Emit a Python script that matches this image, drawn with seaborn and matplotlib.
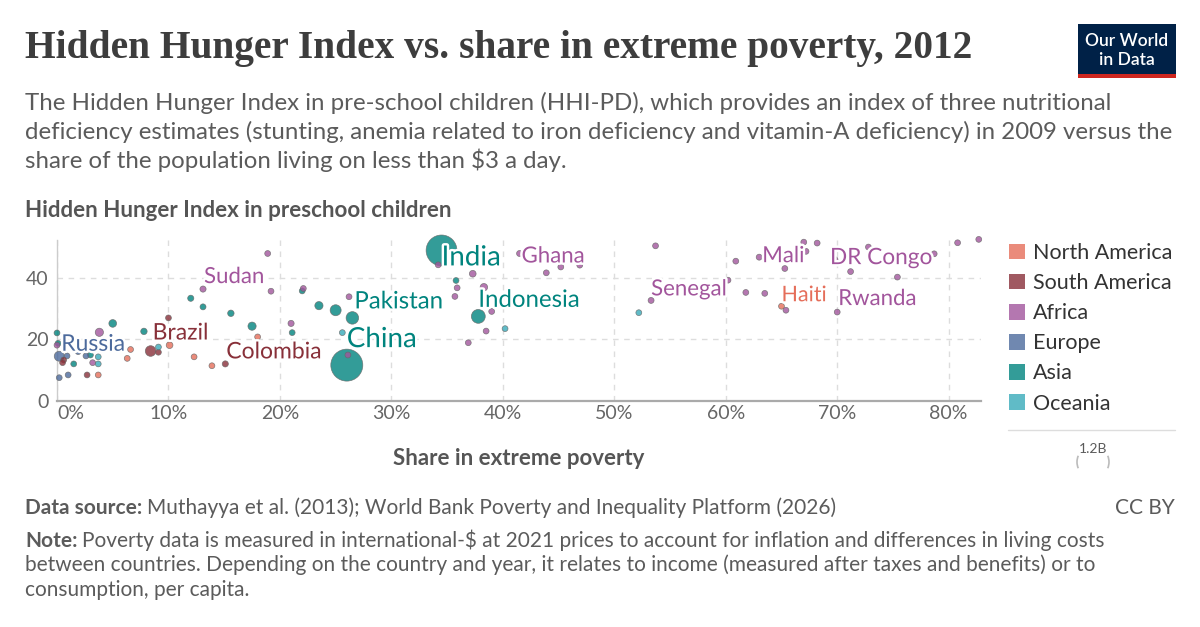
import numpy as np
import pandas as pd
import matplotlib
matplotlib.use("Agg")
import matplotlib.pyplot as plt
import seaborn as sns
from matplotlib.patches import Patch, Rectangle, Arc
import matplotlib.patheffects as pe

# ---------------- data ----------------
country = [
    # Asia (19)
    "India", "China", "Indonesia", "Pakistan", "", "", "", "", "", "", "", "", "", "", "", "", "", "", "",
    # Africa (42)
    "", "", "", "Sudan", "", "", "", "", "", "", "", "", "", "", "", "", "", "",
    "Ghana", "", "", "", "", "Senegal", "", "", "Mali", "", "", "", "", "", "", "", "", "",
    "", "", "Rwanda", "", "", "DR Congo",
    # Europe (6)
    "Russia", "", "", "", "", "",
    # South America (7)
    "Brazil", "", "", "Colombia", "", "", "",
    # North America (8)
    "", "", "", "", "", "", "", "Haiti",
    # Oceania (6)
    "", "", "", "", "", "",
]
region = (["Asia"] * 19 + ["Africa"] * 42 + ["Europe"] * 6 + ["South America"] * 7
          + ["North America"] * 8 + ["Oceania"] * 6)
poverty = [
    34.5, 26.0, 37.8, 26.5, 25.0, 23.5, 17.5, 5.0, 13.1, 12.0, 15.6, 7.8, 0.0, 0.1, 1.5, 3.0, 22.0, 21.1, 35.8,
    3.8, 0.0, 3.2, 13.1, 18.9, 19.2, 22.1, 21.0, 26.2, 26.1, 34.2, 37.3, 35.9, 35.7, 38.3, 39.0, 38.5, 36.9,
    41.5, 43.9, 45.2, 46.9, 53.7, 53.3, 60.2, 60.9, 63.0, 65.3, 61.8, 63.5, 65.4, 67.0, 68.2, 67.2, 72.8, 71.2,
    78.7, 75.4, 70.0, 80.8, 82.7, 69.8,
    0.2, 0.9, 0.2, 1.0, 2.6, 1.9,
    8.4, 9.1, 10.0, 15.1, 0.6, 0.5, 2.7,
    6.6, 6.3, 10.1, 12.3, 13.9, 18.0, 3.7, 65.0,
    3.7, 3.7, 9.1, 25.6, 40.2, 52.2,
]
hhi = [
    49.0, 11.6, 27.5, 27.0, 29.5, 31.0, 24.3, 25.2, 30.6, 33.4, 28.5, 22.6, 22.1, 18.7, 12.0, 14.9, 35.8, 22.2, 39.2,
    22.3, 18.1, 12.4, 36.4, 48.0, 35.7, 36.6, 25.2, 33.9, 14.9, 44.3, 41.4, 36.8, 34.0, 37.0, 29.1, 22.7, 18.9,
    48.0, 41.7, 43.6, 44.2, 50.5, 32.7, 39.3, 45.5, 46.8, 43.1, 35.3, 35.0, 29.5, 51.7, 51.4, 48.7, 50.1, 42.1,
    47.9, 40.3, 28.9, 51.5, 52.6, 46.0,
    14.5, 14.6, 7.5, 8.4, 14.6, 16.0,
    16.2, 15.8, 27.0, 12.0, 13.3, 12.4, 8.4,
    16.7, 13.8, 18.1, 14.3, 11.4, 20.8, 8.4, 30.8,
    14.3, 12.0, 17.5, 22.2, 23.5, 28.7,
]
population = [
    1.28e9, 1.38e9, 2.3e8, 1.8e8, 1.3e8, 5.6e7, 5.6e7, 4.5e7, 1.2e7, 1.5e7, 2.0e7, 2.0e7, 1.0e7, 1.0e7, 1.0e7, 1.0e7, 1.0e7, 1.0e7, 1.0e7,
    5.6e7, 1.0e7, 1.0e7, 1.5e7, 1.0e7, 1.0e7, 1.0e7, 1.5e7, 1.0e7, 1.0e7, 1.0e7, 2.5e7, 1.0e7, 1.0e7, 4.0e7, 1.0e7, 1.0e7, 1.0e7,
    1.2e7, 1.0e7, 1.0e7, 1.0e7, 1.0e7, 1.2e7, 1.0e7, 1.0e7, 1.2e7, 1.0e7, 1.0e7, 1.0e7, 1.0e7, 1.0e7, 1.0e7, 1.0e7, 1.0e7, 1.0e7,
    1.0e7, 1.0e7, 1.0e7, 1.0e7, 1.0e7, 1.2e7,
    1.0e8, 1.0e7, 1.0e7, 1.0e7, 1.0e7, 1.0e7,
    1.2e8, 1.0e7, 1.0e7, 1.5e7, 1.0e7, 1.0e7, 1.0e7,
    1.0e7, 1.0e7, 2.5e7, 1.0e7, 1.0e7, 1.0e7, 1.0e7, 1.0e7,
    1.0e7, 1.0e7, 1.0e7, 1.0e7, 1.0e7, 1.0e7,
]
regions_order = ["North America", "South America", "Africa", "Europe", "Asia", "Oceania"]
x_ticks = [0, 10, 20, 30, 40, 50, 60, 70, 80]
y_ticks = [0, 20, 40]

# ---------------- styling ----------------
region_colors = {"North America": "#E56E5A", "South America": "#883039", "Africa": "#A2559C",
                 "Europe": "#4C6A9C", "Asia": "#00847E", "Oceania": "#38AABA"}
# label offsets in pixels (dx right, dy down) from the point, font size
label_style = {
    "Russia": (2, -12, 16.5), "Brazil": (2, -18, 16.5), "Colombia": (1, -12, 16.5), "Sudan": (1, -12, 16),
    "Pakistan": (2, -16, 17.3), "China": (0, -26, 20), "India": (0, 7, 20), "Indonesia": (0, -16, 17.3),
    "Ghana": (2, 3, 16), "Senegal": (0, -11, 16), "Haiti": (0, -11, 15.5), "Mali": (3, -1, 16),
    "DR Congo": (-5, -2, 16.3), "Rwanda": (1, -13, 16),
}

sns.set_theme(style="white")
plt.rcParams['font.family'] = ['Lato', 'DejaVu Sans']

W, H = 1200, 627
fig = plt.figure(figsize=(12, 6.27), dpi=100)
fig.patch.set_facecolor("white")


def fx(px):
    return px / W


def fy(py):
    return 1 - py / H


ax = fig.add_axes([fx(57), fy(400.7), fx(981) - fx(57), fy(240) - fy(400.7)])

df = pd.DataFrame(dict(country=country, region=region, poverty=poverty, hhi=hhi, population=population))
df = df.sort_values("population", ascending=False).reset_index(drop=True)

sns.scatterplot(data=df, x="poverty", y="hhi", hue="region", palette=region_colors,
                size="population", sizes=(14, 530), size_norm=(0, 1.38e9),
                alpha=0.8, edgecolor="#666666", linewidth=0.5, legend=False, ax=ax,
                clip_on=False, zorder=3)

ax.set_xlim(0, 82.9)
ax.set_ylim(0, 52.4)
ax.set_xticks(x_ticks)
ax.set_xticklabels([f"{v}%" for v in x_ticks])
ax.set_yticks(y_ticks)
ax.set_yticklabels([str(v) for v in y_ticks])
ax.set_xlabel("")
ax.set_ylabel("")
ax.grid(True, color="#dddddd", linestyle=(0, (4, 4)), linewidth=1)
ax.set_axisbelow(True)
for s in ["top", "right"]:
    ax.spines[s].set_visible(False)
ax.spines["left"].set_color("#cccccc")
ax.spines["left"].set_linewidth(1)
ax.spines["bottom"].set_color("#aaaaaa")
ax.spines["bottom"].set_linewidth(1.6)
ax.tick_params(axis="both", length=0, labelsize=14, labelcolor="#666666")
ax.tick_params(axis="x", pad=3)
ax.tick_params(axis="y", pad=6)
ax.get_xticklabels()[0].set_horizontalalignment("left")

halo = [pe.withStroke(linewidth=3.5, foreground="white")]
for name, (dx, dy, fs) in label_style.items():
    row = df[df.country == name].iloc[0]
    ax.annotate(name, (row.poverty, row.hhi), xytext=(dx * 0.72, -dy * 0.72),
                textcoords="offset points", ha="left", va="center", fontsize=fs,
                color=region_colors[row.region], path_effects=halo, zorder=5,
                annotation_clip=False)

# ---------------- titles ----------------
fig.text(fx(25), fy(58), "Hidden Hunger Index vs. share in extreme poverty, 2012",
         family=["Liberation Serif", "DejaVu Serif"], fontweight="bold", fontsize=28.4,
         color="#3d3d3d", va="baseline", ha="left")
subtitle = [
    "The Hidden Hunger Index in pre-school children (HHI-PD), which provides an index of three nutritional",
    "deficiency estimates (stunting, anemia related to iron deficiency and vitamin-A deficiency) in 2009 versus the",
    "share of the population living on less than $3 a day.",
]
for i, line in enumerate(subtitle):
    fig.text(fx(25), fy(110 + 29 * i), line, fontsize=17.3, color="#5b5b5b", va="baseline", ha="left")

fig.text(fx(25), fy(217), "Hidden Hunger Index in preschool children", fontsize=16.1,
         fontweight="bold", color="#555555", va="baseline", ha="left")
fig.text(fx(519), fy(465), "Share in extreme poverty", fontsize=16,
         fontweight="bold", color="#555555", va="baseline", ha="center")

# ---------------- legend ----------------
handles = [Patch(facecolor=region_colors[r], alpha=0.8, edgecolor="none", label=r) for r in regions_order]
fig.legend(handles=handles, loc="upper left", bbox_to_anchor=(fx(1009), fy(243)), frameon=False,
           fontsize=15.5, handlelength=0.75, handleheight=0.75, handletextpad=0.37,
           labelspacing=0.47, borderaxespad=0, borderpad=0, labelcolor="#333333")
fig.add_artist(plt.Line2D([fx(1008), fx(1175)], [fy(430), fy(430)], color="#dddddd", lw=1))
for t1, t2 in [(141, 219), (-39, 39)]:
    fig.add_artist(Arc((fx(1093), fy(462)), 32 / W, 32 / H, theta1=t1, theta2=t2,
                       transform=fig.transFigure, color="#bbbbbb", lw=1.2))
fig.text(fx(1093), fy(449), "1.2B", fontsize=10, color="#5b5b5b", ha="center", va="center")

# ---------------- logo ----------------
fig.add_artist(Rectangle((fx(1078), fy(78)), (1176 - 1078) / W, (78 - 24) / H,
                         transform=fig.transFigure, facecolor="#002147", edgecolor="none"))
fig.add_artist(Rectangle((fx(1078), fy(78)), (1176 - 1078) / W, 4 / H,
                         transform=fig.transFigure, facecolor="#CE261E", edgecolor="none"))
fig.text(fx(1127), fy(41), "Our World", fontsize=12.5, color="white", ha="center", va="center",
         fontweight="semibold")
fig.text(fx(1127), fy(60), "in Data", fontsize=12.5, color="white", ha="center", va="center",
         fontweight="semibold")

# ---------------- footer ----------------
fig.canvas.draw()
renderer = fig.canvas.get_renderer()
FS = 15


def bold_prefix(x_px, y_px, bold, rest):
    t = fig.text(fx(x_px), fy(y_px), bold, fontsize=FS, fontweight="bold", color="#5b5b5b",
                 va="baseline", ha="left")
    bb = t.get_window_extent(renderer=renderer)
    fig.text(bb.x1 / W + 5 / W, fy(y_px), rest, fontsize=FS, color="#5b5b5b",
             va="baseline", ha="left")


bold_prefix(25, 514, "Data source:", "Muthayya et al. (2013); World Bank Poverty and Inequality Platform (2026)")
fig.text(fx(1175), fy(514), "CC BY", fontsize=FS, color="#5b5b5b", va="baseline", ha="right")
bold_prefix(25, 547, "Note:", "Poverty data is measured in international-$ at 2021 prices to account for inflation and differences in living costs")
fig.text(fx(25), fy(571), "between countries. Depending on the country and year, it relates to income (measured after taxes and benefits) or to",
         fontsize=FS, color="#5b5b5b", va="baseline", ha="left")
fig.text(fx(25), fy(596), "consumption, per capita.", fontsize=FS, color="#5b5b5b", va="baseline", ha="left")

fig.savefig("out.png", dpi=100, facecolor="white")
